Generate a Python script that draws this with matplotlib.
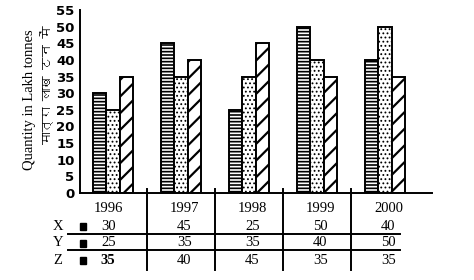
import numpy as np
import matplotlib
matplotlib.use("Agg")
import matplotlib.pyplot as plt
from matplotlib import font_manager
from matplotlib.ft2font import FT2Font

# Data uit de tabel
years = ["1996", "1997", "1998", "1999", "2000"]
series = ["X", "Y", "Z"]
x_vals = [30, 45, 25, 50, 40]
y_vals = [25, 35, 35, 40, 50]
z_vals = [35, 40, 45, 35, 35]
hatches = ["-----", "....", "//"]
hatch_lw = [1.2, 0.8, 1.6]
y_ticks = list(range(0, 56, 5))

# Zoek een lettertype dat Devanagari kan tonen
hindi_font = "DejaVu Sans"
for f in font_manager.fontManager.ttflist:
    try:
        if ord("म") in FT2Font(f.fname).get_charmap():
            hindi_font = f.name
            break
    except Exception:
        pass

plt.rcParams["font.family"] = "Liberation Serif"
plt.rcParams["hatch.linewidth"] = 1.3

fig = plt.figure(figsize=(4.74, 2.8), dpi=100)
ax = fig.add_axes([80 / 474, 87 / 280, 352 / 474, 183 / 280])

pos = np.arange(len(years))
w = 0.2
all_vals = [x_vals, y_vals, z_vals]
for k, vals in enumerate(all_vals):
    bars = ax.bar(pos + (k - 1) * w, vals, width=w, color="white", edgecolor="black",
                  hatch=hatches[k], linewidth=1.4)
    for b in bars:
        if hasattr(b, "set_hatch_linewidth"):
            b.set_hatch_linewidth(hatch_lw[k])

ax.set_xlim(-0.485, 4.69)
ax.set_ylim(0, 55)
ax.set_yticks(y_ticks)
ax.set_yticklabels([str(t) for t in y_ticks], fontweight="bold", fontsize=9.5, family="DejaVu Sans")
ax.tick_params(axis="y", length=0, pad=4)
ax.set_xticks([])
for s in ["top", "right"]:
    ax.spines[s].set_visible(False)
ax.spines["left"].set_linewidth(1.4)
ax.spines["bottom"].set_linewidth(1.4)

fig.text(30 / 474, 1 - 100 / 280, "Quantity in Lakh tonnes", rotation=90,
         ha="center", va="center", fontsize=10.5)
fig.text(47 / 474, 1 - 85 / 280, "मात्रा लाख टन में", rotation=90,
         ha="center", va="center", fontsize=9, family=hindi_font)

# Tabel onder de grafiek
tab = fig.add_axes([80 / 474, 8 / 280, 352 / 474, 79 / 280])
tab.set_xlim(ax.get_xlim())
tab.set_ylim(79, 0)
tab.axis("off")

for i, yr in enumerate(years):
    dx = -0.07 if i == 0 else 0.05
    tab.text(i + dx, 16, yr, ha="center", va="center", fontsize=10.5)
    for r, vals in enumerate(all_vals):
        tab.text(i + dx, 33 + r * 17, str(vals[i]),
                 ha="center", va="center", fontsize=10.5,
                 fontweight="bold" if (i == 0 and r == 2) else "normal")

for r, name in enumerate(series):
    tab.text(-0.81, 33 + r * 17, name, ha="center", va="center", fontsize=10.5, clip_on=False)
    tab.bar(-0.44, 7, bottom=29.5 + r * 17, width=0.1, color="black", edgecolor="black",
            clip_on=False)

for xs in pos[:-1] + 0.5:
    tab.plot([xs, xs], [-4, 77], color="black", lw=1.4, clip_on=False)
for yl in [40.5, 56.5]:
    tab.plot([-0.66, 4.22], [yl, yl], color="black", lw=1.4, clip_on=False)

fig.savefig("out.png", dpi=100)
